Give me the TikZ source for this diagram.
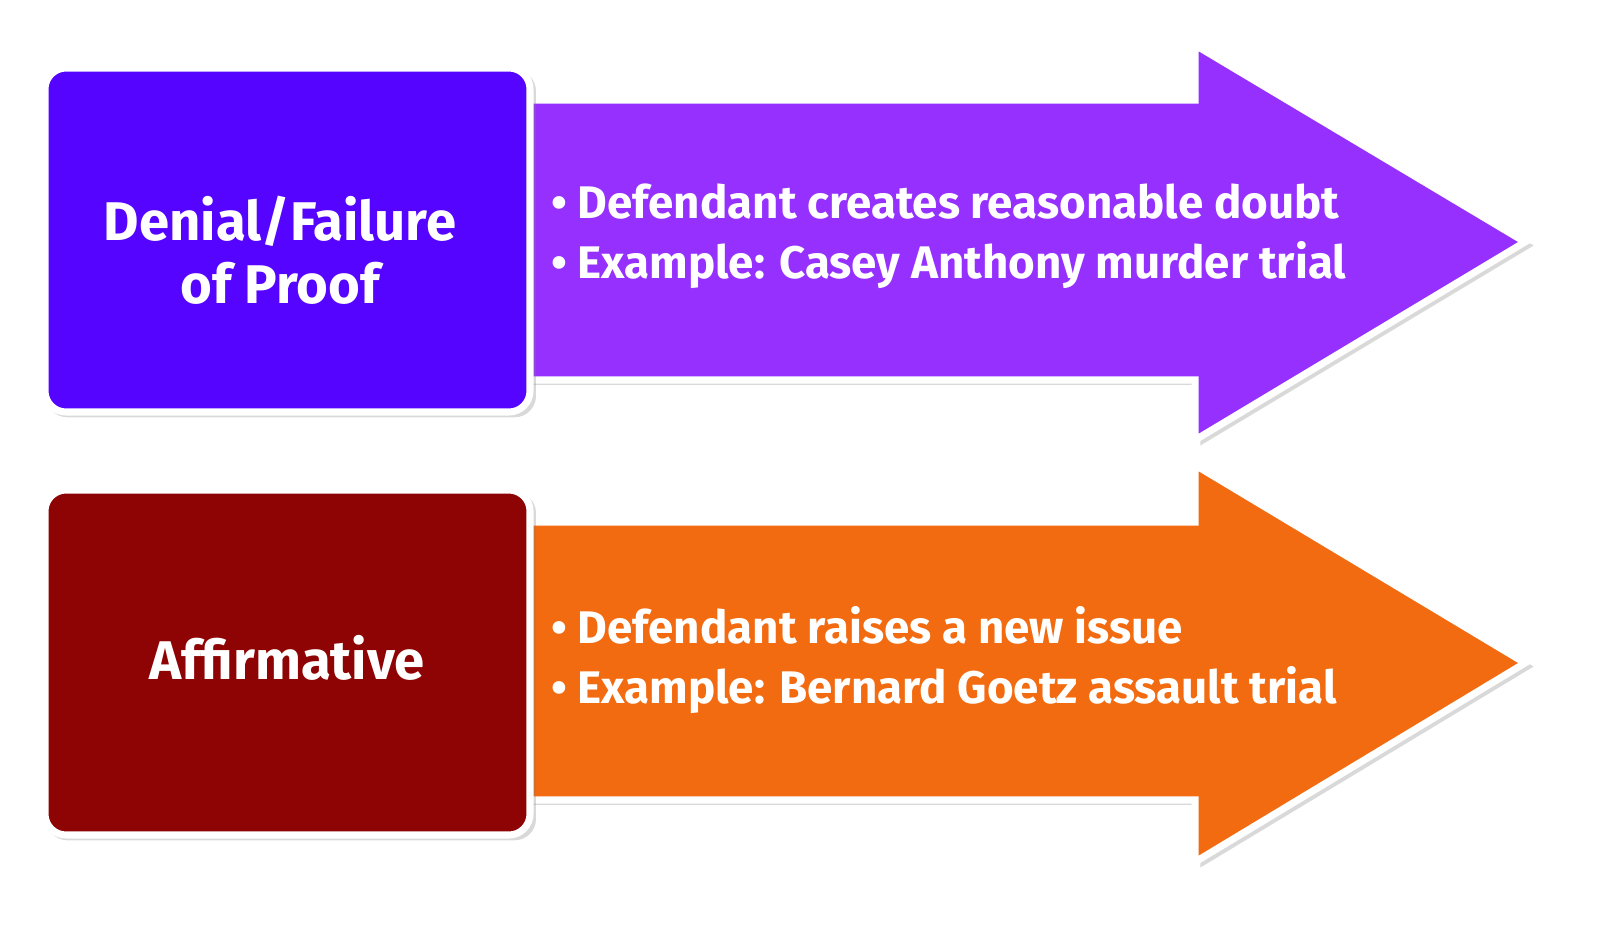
\documentclass[tikz,border=0pt]{standalone}
\usepackage{fontspec}
\setmainfont{Fira Sans}
\usetikzlibrary{shadows}
\definecolor{proofbox}{HTML}{5504FF}
\definecolor{proofarrow}{HTML}{9530FF}
\definecolor{affbox}{HTML}{8E0404}
\definecolor{affarrow}{HTML}{F26B10}
\begin{document}
\begin{tikzpicture}[x=0.02cm,y=-0.02cm,
  box/.style={draw=white,line width=4pt,rounded corners=12pt,
    drop shadow={shadow xshift=2pt,shadow yshift=-2pt,opacity=.3,shadow scale=1.01}},
  arrow/.style={draw=white,line width=4pt,
    drop shadow={shadow xshift=2pt,shadow yshift=-2pt,opacity=.3,shadow scale=1.01}},
  title/.style={text=white,font=\fontsize{31}{36}\selectfont\bfseries,align=center},
  item/.style={text=white,font=\fontsize{26}{34}\selectfont\bfseries,align=left,anchor=west}]
\useasboundingbox (0,0) rectangle (1612,933);
% upper row
\filldraw[arrow,fill=proofarrow] (510,100) -- (1195,100) -- (1195,45) -- (1525,242)
  -- (1195,440) -- (1195,380) -- (510,380) -- cycle;
\filldraw[box,fill=proofbox] (45,68) rectangle (530,412);
\node[title] (proof) at (280,250) {Denial/Failure\\of Proof};
\node[item] (proofitems) at (545,236) {• Defendant creates reasonable doubt\\• Example: Casey Anthony murder trial};
% lower row
\filldraw[arrow,fill=affarrow] (510,522) -- (1195,522) -- (1195,465) -- (1525,663)
  -- (1195,862) -- (1195,800) -- (510,800) -- cycle;
\filldraw[box,fill=affbox] (45,490) rectangle (530,835);
\node[title] (aff) at (287,658) {Affirmative};
\node[item] (affitems) at (545,660) {• Defendant raises a new issue\\• Example: Bernard Goetz assault trial};
\end{tikzpicture}
\end{document}
